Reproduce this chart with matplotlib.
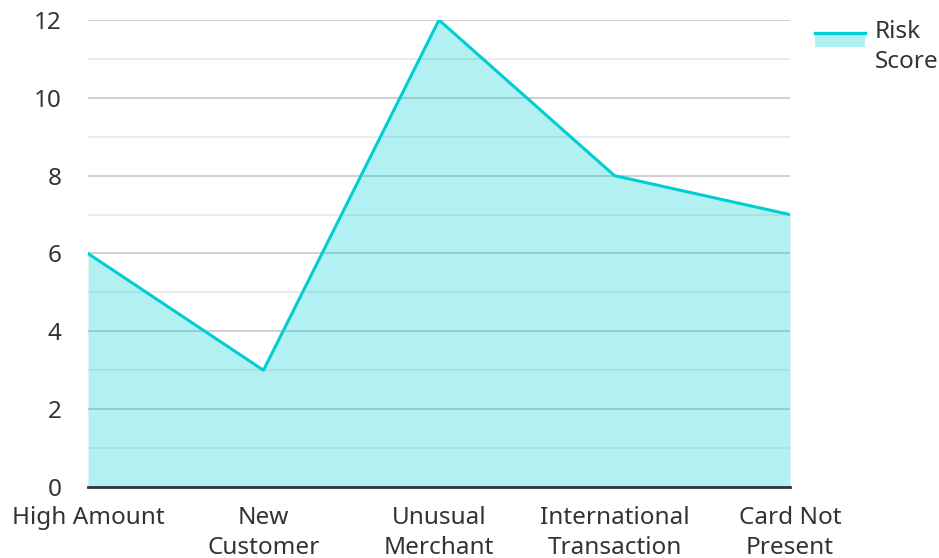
import numpy as np
import matplotlib.pyplot as plt
from matplotlib.patches import Rectangle
from matplotlib.lines import Line2D
from matplotlib.legend_handler import HandlerBase

plt.rcParams['font.family'] = ['Noto Sans', 'DejaVu Sans']

categories = ["High Amount", "New\nCustomer", "Unusual\nMerchant", "International\nTransaction", "Card Not\nPresent"]
risk_score = [6, 3, 12, 8, 7]

line_color = "#00ced1"
text_color = "#333333"
fs = 17.5


class AreaHandler(HandlerBase):
    # legend key: filled box with the line on its top edge
    def create_artists(self, legend, orig_handle, xdescent, ydescent, width, height, fontsize, trans):
        y0 = -ydescent + height * 0.55
        top = y0 + fontsize * 0.55
        rect = Rectangle((-xdescent, y0), width, top - y0, facecolor=line_color,
                         alpha=0.3, edgecolor="none", transform=trans)
        ln = Line2D([-xdescent, -xdescent + width], [top, top], color=line_color, lw=2.4, transform=trans)
        return [rect, ln]


fig = plt.figure(figsize=(9.39, 5.58), dpi=100)
ax = fig.add_axes([0.0937, 0.1272, 0.7476, 0.837])

x = np.arange(len(categories))
ax.fill_between(x, risk_score, 0, color=line_color, alpha=0.3, lw=0, zorder=3)
ax.plot(x, risk_score, color=line_color, lw=2.2, zorder=4)

ax.set_xlim(0, len(categories) - 1)
ax.set_ylim(0, 12)
ax.set_yticks(range(0, 13, 2))
ax.set_yticks(range(1, 13, 2), minor=True)
ax.grid(axis="y", which="major", color="#c8c8c8", lw=1.2, zorder=1)
ax.grid(axis="y", which="minor", color="#e8e8e8", lw=1.2, zorder=1)
ax.grid(axis="x", visible=False)

ax.set_xticks(x)
ax.set_xticklabels(categories, linespacing=1.3)
ax.tick_params(axis="both", length=0, labelsize=fs, colors=text_color)
ax.tick_params(axis="y", pad=19)
ax.tick_params(axis="x", pad=14)
ax.tick_params(axis="y", which="minor", length=0)

for side in ["top", "right", "left"]:
    ax.spines[side].set_visible(False)
ax.spines["bottom"].set_color(text_color)
ax.spines["bottom"].set_linewidth(2)
ax.spines["bottom"].set_zorder(5)

leg = ax.legend([object()], ["Risk\nScore"], handler_map={object: AreaHandler()},
                loc="upper left", bbox_to_anchor=(1.036, 1.0), frameon=False,
                fontsize=fs, handlelength=2.05, handletextpad=0.41, borderaxespad=0,
                borderpad=0)
for t in leg.get_texts():
    t.set_color(text_color)
    t.set_linespacing(1.35)

fig.savefig("out.png", dpi=100)
